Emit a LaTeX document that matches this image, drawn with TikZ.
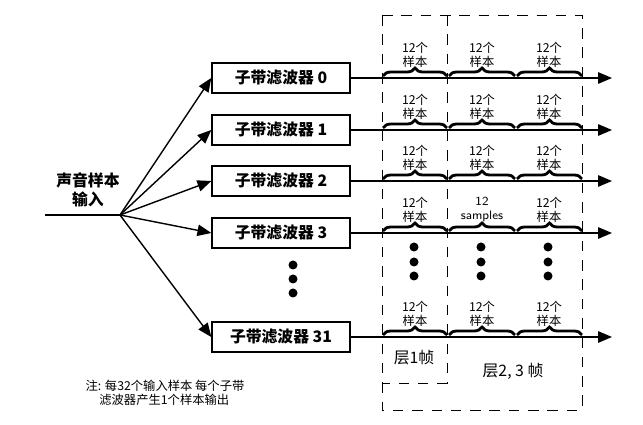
\documentclass[tikz,border=0pt]{standalone}
\usepackage{fontspec}
\setmainfont{Liberation Serif}
\newfontfamily\cjk{Noto Sans CJK SC}
\usetikzlibrary{arrows,shapes,decorations.pathreplacing}
\newlength{\pxu}
\setlength{\pxu}{0.02cm}
\tikzstyle{filter}=[draw,thick,minimum width=138\pxu,minimum height=30\pxu,inner sep=0pt,font=\cjk\bfseries\small]
\tikzstyle{flow} = [draw,thick,-triangle 45]
\tikzstyle{frame} = [draw,thin,dash pattern=on 6pt off 5pt]
\tikzstyle{count}=[font=\cjk\scriptsize,align=center,inner sep=0pt,text width=30\pxu]
\tikzstyle{dot}=[circle,fill=black,minimum size=9\pxu,inner sep=0pt]
\tikzstyle{grp}=[draw,line width=1.6pt,decorate,decoration={brace,amplitude=8\pxu}]
\begin{document}
\begin{tikzpicture}[x=0.02cm,y=-0.02cm]
    \useasboundingbox (0,0) rectangle (643,425);
    % input and fan point
    \node[font=\cjk\bfseries\small,align=center] (in) at (88,190) {声音样本\\输入};
    \coordinate (src) at (45,215);
    \coordinate (fan) at (120,215);
    \draw[thick] (src) -- (fan);
    % the filters and their output lines
    \foreach \y/\name/\txt in {78/f0/0, 130/f1/1, 181/f2/2, 233/f3/3, 337/f31/31}{
        \node[filter] (\name) at (281,\y) {子带滤波器 \txt};
        \coordinate (\name end) at (612,\y);
        \path[flow] (fan) -- (\name.west);
        \path[flow] (\name.east) -- (\name end);
        \foreach \a/\b in {383/447, 449/515, 517/582}{
            \coordinate (\name l\a) at (\a,\y-2);
            \coordinate (\name r\a) at (\b,\y-2);
            \path[grp] (\name l\a) -- (\name r\a);
        }
    }
    % sample counts
    \foreach \y in {55,107,158,314}
        \foreach \x in {415,482,549}
            \node[count] at (\x,\y) {12个\\样本};
    \foreach \x in {415,549}
        \node[count] at (\x,210) {12个\\样本};
    \node[font=\sffamily\scriptsize,align=center,inner sep=0pt] at (482,210) {12\\samples};
    % dots
    \foreach \y in {265,279,293}
        \node[dot] at (293,\y) {};
    \foreach \x in {414,481,548}
        \foreach \y in {247,262,276}
            \node[dot] at (\x,\y) {};
    % frames
    \path[frame] (382,15) -- (582,15);
    \path[frame] (382,15) -- (382,410) -- (582,410) -- (582,15);
    \path[frame] (447,15) -- (447,383) -- (382,383);
    \node[font=\cjk\small] (l1) at (414,358) {层1帧};
    \node[font=\cjk\small] (l23) at (513,371) {层2, 3 帧};
    % note
    \node[font=\cjk\scriptsize,align=left] (note) at (165,393) {注: 每32个输入样本 每个子带\\\ \ \ \ \ 滤波器产生1个样本输出};
\end{tikzpicture}
\end{document}
